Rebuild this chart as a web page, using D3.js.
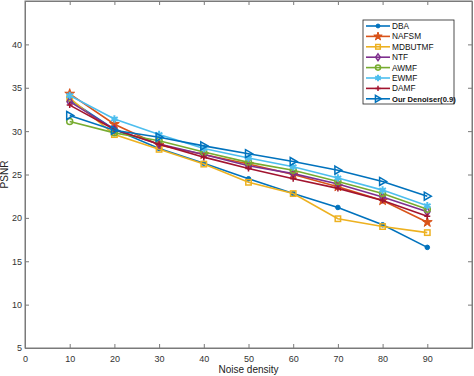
<!DOCTYPE html>
<html>
<head>
<meta charset="utf-8">
<script src="https://cdn.jsdelivr.net/npm/d3@7"></script>
<style>
  body { margin: 0; background: #fff; }
  text { font-family: "Liberation Sans", Arial, sans-serif; }
</style>
</head>
<body>
<div id="chart"></div>
<script>
// noise densities (x)
var densidades = [10, 20, 30, 40, 50, 60, 70, 80, 90];
var metodos = ["DBA", "NAFSM", "MDBUTMF", "NTF", "AWMF", "EWMF", "DAMF", "Our Denoiser(0.9)"];
var colores = ["#0072BD", "#D95319", "#EDB120", "#7E2F8E", "#77AC30", "#4DBEEE", "#A2142F", "#0072BD"];
var marcas = ["dot", "star", "square", "diamond", "circle", "hexstar", "plus", "triangle"];

// PSNR
var psnr_dba     = [33.6, 30.2, 28.0, 26.3, 24.5, 22.8, 21.2, 19.2, 16.6];
var psnr_nafsm   = [34.3, 30.8, 28.4, 27.3, 26.2, 25.0, 23.6, 22.0, 19.5];
var psnr_mdbutmf = [33.8, 29.6, 27.9, 26.2, 24.1, 22.8, 19.9, 19.0, 18.3];
var psnr_ntf     = [33.4, 30.2, 28.5, 27.3, 26.0, 25.1, 23.9, 22.4, 20.7];
var psnr_awmf    = [31.1, 29.8, 28.9, 27.6, 26.4, 25.5, 24.2, 22.8, 21.0];
var psnr_ewmf    = [34.1, 31.4, 29.6, 28.0, 26.9, 25.9, 24.6, 23.2, 21.4];
var psnr_damf    = [33.0, 30.2, 28.5, 27.0, 25.7, 24.5, 23.4, 22.0, 20.2];
var psnr_our     = [31.8, 30.1, 29.3, 28.3, 27.4, 26.5, 25.5, 24.2, 22.5];

var series = [psnr_dba, psnr_nafsm, psnr_mdbutmf, psnr_ntf, psnr_awmf, psnr_ewmf, psnr_damf, psnr_our];

var ticks_x = [0, 10, 20, 30, 40, 50, 60, 70, 80, 90];
var ticks_y = [5, 10, 15, 20, 25, 30, 35, 40];

var ancho = 474, altura = 376;
var margin = { top: 1, right: 2, bottom: 28, left: 25 },
  width = ancho - margin.left - margin.right,
  height = altura - margin.top - margin.bottom;

var svg = d3.select("#chart").append("svg")
  .attr("width", ancho)
  .attr("height", altura)
  .append("g")
  .attr("transform", "translate(" + margin.left + "," + margin.top + ")");

var x = d3.scaleLinear().domain([0, 100]).range([0, width]);
var y = d3.scaleLinear().domain([5, 45]).range([height, 0]);

// box
svg.append("rect")
  .attr("x", 0).attr("y", 0)
  .attr("width", width).attr("height", height)
  .attr("fill", "none")
  .attr("stroke", "#7a7a7a")
  .attr("stroke-width", 1);

// axes with inward ticks
svg.append("g")
  .attr("transform", "translate(0," + height + ")")
  .call(d3.axisBottom(x).tickValues(ticks_x).tickSizeInner(-4).tickSizeOuter(0).tickPadding(8));
svg.append("g")
  .call(d3.axisLeft(y).tickValues(ticks_y).tickSizeInner(-4).tickSizeOuter(0).tickPadding(3));
svg.append("g")
  .attr("transform", "translate(" + width + ",0)")
  .call(d3.axisRight(y).tickValues(ticks_y).tickSizeInner(-4).tickSizeOuter(0).tickFormat(""));
svg.append("g")
  .call(d3.axisTop(x).tickValues(ticks_x).tickSizeInner(-4).tickSizeOuter(0).tickFormat(""));

svg.selectAll(".domain").attr("stroke", "#7a7a7a");
svg.selectAll(".tick line").attr("stroke", "#7a7a7a");
svg.selectAll(".tick text").attr("fill", "#333").style("font-size", "9px");

// labels
svg.append("text")
  .attr("x", width / 2).attr("y", height + 25)
  .attr("text-anchor", "middle")
  .style("font-size", "10px").attr("fill", "#222")
  .text("Noise density");
svg.append("text")
  .attr("transform", "translate(-17," + (height / 2) + ") rotate(-90)")
  .attr("text-anchor", "middle")
  .style("font-size", "10px").attr("fill", "#222")
  .text("PSNR");

function dibujarMarca(g, tipo, color, k) {
  k = k || 1;
  if (tipo == "dot") {
    g.append("circle").attr("r", 2.3 * k).attr("fill", color).attr("stroke", color);
  } else if (tipo == "star") {
    g.append("path").attr("d", d3.symbol().type(d3.symbolStar).size(30 * k * k)())
      .attr("fill", color).attr("stroke", color).attr("stroke-width", 1);
  } else if (tipo == "square") {
    g.append("rect").attr("x", -2.7 * k).attr("y", -2.7 * k).attr("width", 5.4 * k).attr("height", 5.4 * k)
      .attr("fill", "none").attr("stroke", color).attr("stroke-width", 1.5);
  } else if (tipo == "diamond") {
    g.append("path").attr("d", "M0," + (-4 * k) + "L" + (2.7 * k) + ",0L0," + (4 * k) + "L" + (-2.7 * k) + ",0Z")
      .attr("fill", "none").attr("stroke", color).attr("stroke-width", 1.5);
  } else if (tipo == "circle") {
    g.append("circle").attr("r", 3 * k)
      .attr("fill", "none").attr("stroke", color).attr("stroke-width", 1.5);
  } else if (tipo == "hexstar") {
    g.append("path").attr("d", d3.symbol().type(d3.symbolAsterisk).size(40 * k * k)())
      .attr("fill", "none").attr("stroke", color).attr("stroke-width", 2);
  } else if (tipo == "plus") {
    g.append("path").attr("d", "M" + (-3 * k) + ",0H" + (3 * k) + "M0," + (-3 * k) + "V" + (3 * k))
      .attr("fill", "none").attr("stroke", color).attr("stroke-width", 1.5);
  } else if (tipo == "triangle") {
    g.append("path").attr("d", "M" + (-3 * k) + "," + (-4 * k) + "L" + (4 * k) + ",0L" + (-3 * k) + "," + (4 * k) + "Z")
      .attr("fill", "none").attr("stroke", color).attr("stroke-width", 1.5);
  }
}

var linea = d3.line()
  .x(function (d) { return x(d[0]); })
  .y(function (d) { return y(d[1]); });

series.forEach(function (vals, i) {
  var pts = densidades.map(function (dd, j) { return [dd, vals[j]]; });
  svg.append("path")
    .datum(pts)
    .attr("d", linea)
    .attr("fill", "none")
    .attr("stroke", colores[i])
    .attr("stroke-width", 1.6);
  pts.forEach(function (p) {
    var g = svg.append("g").attr("transform", "translate(" + x(p[0]) + "," + y(p[1]) + ")");
    dibujarMarca(g, marcas[i], colores[i]);
  });
});

// legend
var leg = svg.append("g").attr("transform", "translate(" + (363 - margin.left) + "," + (20 - margin.top) + ")");
leg.append("rect")
  .attr("width", 91).attr("height", 84)
  .attr("fill", "#fff").attr("stroke", "#222").attr("stroke-width", 0.8);
metodos.forEach(function (m, i) {
  var yy = 6 + i * 10.4;
  leg.append("line")
    .attr("x1", 3).attr("x2", 27).attr("y1", yy).attr("y2", yy)
    .attr("stroke", colores[i]).attr("stroke-width", 1.6);
  var g = leg.append("g").attr("transform", "translate(15," + yy + ")");
  dibujarMarca(g, marcas[i], colores[i], 0.85);
  leg.append("text")
    .attr("x", 29).attr("y", yy + 3)
    .style("font-size", i == metodos.length - 1 ? "7.6px" : "8.3px")
    .style("font-weight", i == metodos.length - 1 ? "bold" : "normal")
    .attr("fill", "#111")
    .text(m);
});
</script>
</body>
</html>
